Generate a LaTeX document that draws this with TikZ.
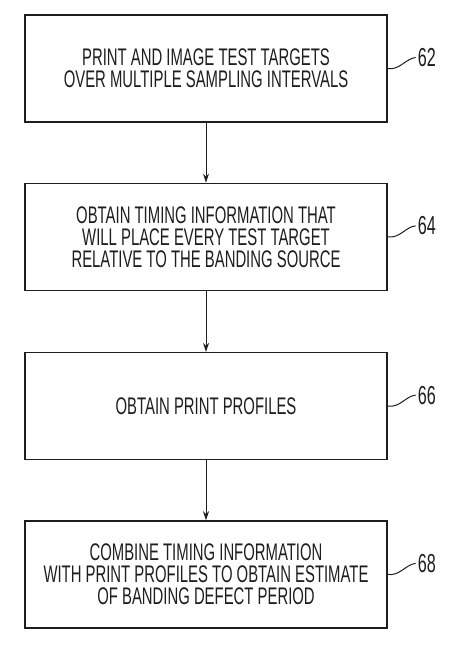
\documentclass[tikz,border=0pt]{standalone}
\usepackage{fontspec}
\setmainfont{Liberation Sans}[FakeStretch=0.62]
\usepackage{tikz}
\usetikzlibrary{arrows.meta, positioning}
\definecolor{inkdark}{RGB}{30,30,30}
\tikzset{
  stepbox/.style={rectangle, draw=inkdark, text=inkdark,
    minimum width=362pt, minimum height=107pt, align=center,
    font=\fontsize{24}{22}\selectfont, inner sep=0pt, line width=1.3pt},
  arrow/.style={-{Stealth[length=9pt, width=6pt]}, line width=1pt, color=inkdark},
  leader/.style={line width=1pt, color=inkdark},
  reflabel/.style={anchor=west, inner sep=0pt, text=inkdark,
    font=\fontsize{26}{26}\selectfont}
}

\begin{document}
\begin{tikzpicture}[x=1pt, y=1pt]
  \useasboundingbox (0,0) rectangle (474,-650);

  % Flow steps
  \node[stepbox] (print) at (206,-68.5) {PRINT AND IMAGE TEST TARGETS\\OVER MULTIPLE SAMPLING INTERVALS};
  \node[stepbox, below=60pt of print] (timing) {OBTAIN TIMING INFORMATION THAT\\WILL PLACE EVERY TEST TARGET\\RELATIVE TO THE BANDING SOURCE};
  \node[stepbox, below=61pt of timing] (profiles) {OBTAIN PRINT PROFILES};
  \node[stepbox, below=60pt of profiles] (combine) {COMBINE TIMING INFORMATION\\WITH PRINT PROFILES TO OBTAIN ESTIMATE\\OF BANDING DEFECT PERIOD};

  % Connectors
  \draw[arrow] (print) -- (timing);
  \draw[arrow] (timing) -- (profiles);
  \draw[arrow] (profiles) -- (combine);

  % Reference numerals
  \foreach \step/\num in {print/62, timing/64, profiles/66, combine/68} {
    \node[reflabel] (ref\num) at ([shift={(30,11)}]\step.east) {\num};
    \draw[leader] (\step.east) .. controls +(12,-2) and +(-10,-1) .. ([xshift=-2pt]ref\num.west);
  }
\end{tikzpicture}
\end{document}
